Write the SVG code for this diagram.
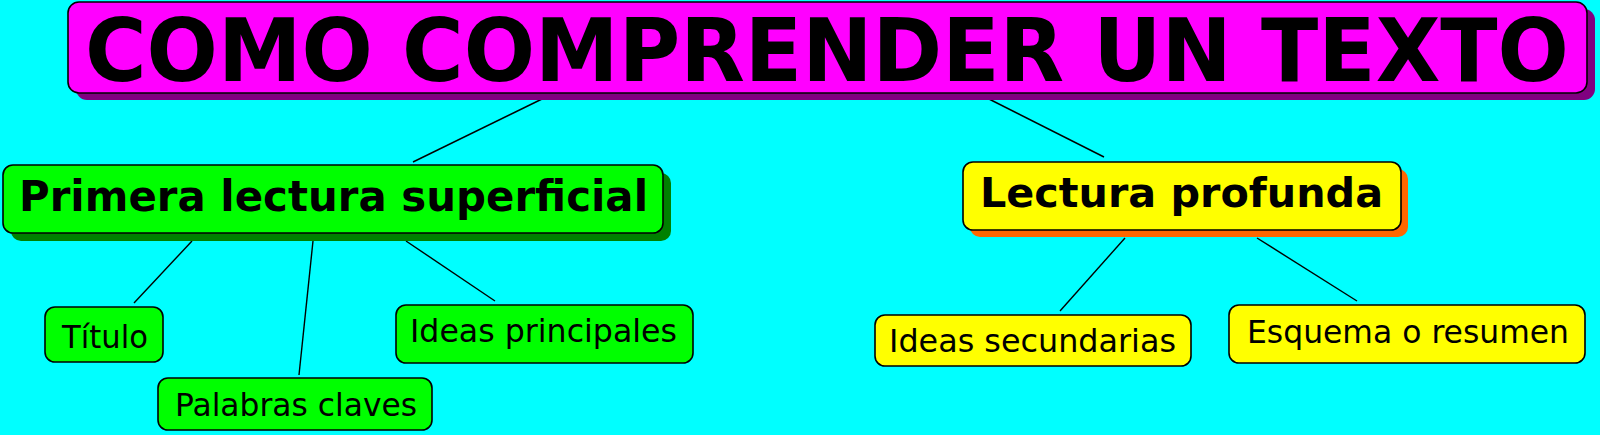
<svg xmlns="http://www.w3.org/2000/svg" width="1600" height="435" viewBox="0 0 1600 435">
  <style>
    .box { stroke: #000; stroke-width: 1.6; }
    .bold { font-family: "DejaVu Sans", "Verdana", sans-serif; font-weight: bold; fill: #000; }
    .reg { font-family: "DejaVu Sans", "Verdana", sans-serif; font-size: 32px; fill: #000; }
    .conn { stroke: #000; stroke-width: 1.4; fill: none; }
  </style>
  <rect x="0" y="0" width="1600" height="435" fill="#00FFFF"/>

  <g id="connectors">
    <line class="conn" x1="542" y1="99" x2="413" y2="162"/>
    <line class="conn" x1="989" y1="99" x2="1104" y2="157"/>
    <line class="conn" x1="192" y1="241" x2="134" y2="303"/>
    <line class="conn" x1="313" y1="241" x2="299" y2="375"/>
    <line class="conn" x1="406" y1="241" x2="495" y2="301"/>
    <line class="conn" x1="1125" y1="238" x2="1060" y2="311"/>
    <line class="conn" x1="1257" y1="238" x2="1357" y2="301"/>
  </g>

  <g id="title">
    <rect x="76" y="9" width="1519" height="91" rx="11" fill="#800080"/>
    <rect class="box" x="68" y="2" width="1519" height="91" rx="11" fill="#FF00FF"/>
    <text class="bold" x="85" y="81" font-size="87" textLength="1484" lengthAdjust="spacingAndGlyphs">COMO COMPRENDER UN TEXTO</text>
  </g>

  <g id="primera">
    <rect x="11" y="173" width="660" height="68" rx="10" fill="#008000"/>
    <rect class="box" x="3" y="165" width="660" height="68" rx="10" fill="#00FF00"/>
    <text class="bold" x="19" y="211" font-size="42" textLength="629" lengthAdjust="spacingAndGlyphs">Primera lectura superficial</text>
  </g>

  <g id="lectura">
    <rect x="970" y="169" width="438" height="68" rx="10" fill="#FF6600"/>
    <rect class="box" x="963" y="162" width="438" height="68" rx="10" fill="#FFFF00"/>
    <text class="bold" x="980" y="207" font-size="41.5" textLength="403" lengthAdjust="spacingAndGlyphs">Lectura profunda</text>
  </g>

  <g id="titulo">
    <rect class="box" x="45" y="307" width="118" height="55" rx="10" fill="#00FF00"/>
    <text class="reg" x="62" y="348" textLength="86" lengthAdjust="spacingAndGlyphs">Título</text>
  </g>

  <g id="palabras">
    <rect class="box" x="158" y="378" width="274" height="52" rx="10" fill="#00FF00"/>
    <text class="reg" x="175" y="416" textLength="242" lengthAdjust="spacingAndGlyphs">Palabras claves</text>
  </g>

  <g id="ideas-principales">
    <rect class="box" x="396" y="305" width="297" height="58" rx="10" fill="#00FF00"/>
    <text class="reg" x="410" y="342" textLength="267" lengthAdjust="spacingAndGlyphs">Ideas principales</text>
  </g>

  <g id="ideas-secundarias">
    <rect class="box" x="875" y="315" width="316" height="51" rx="10" fill="#FFFF00"/>
    <text class="reg" x="889" y="352" textLength="287" lengthAdjust="spacingAndGlyphs">Ideas secundarias</text>
  </g>

  <g id="esquema">
    <rect class="box" x="1229" y="305" width="356" height="58" rx="10" fill="#FFFF00"/>
    <text class="reg" x="1247" y="343" textLength="322" lengthAdjust="spacingAndGlyphs">Esquema o resumen</text>
  </g>
</svg>
